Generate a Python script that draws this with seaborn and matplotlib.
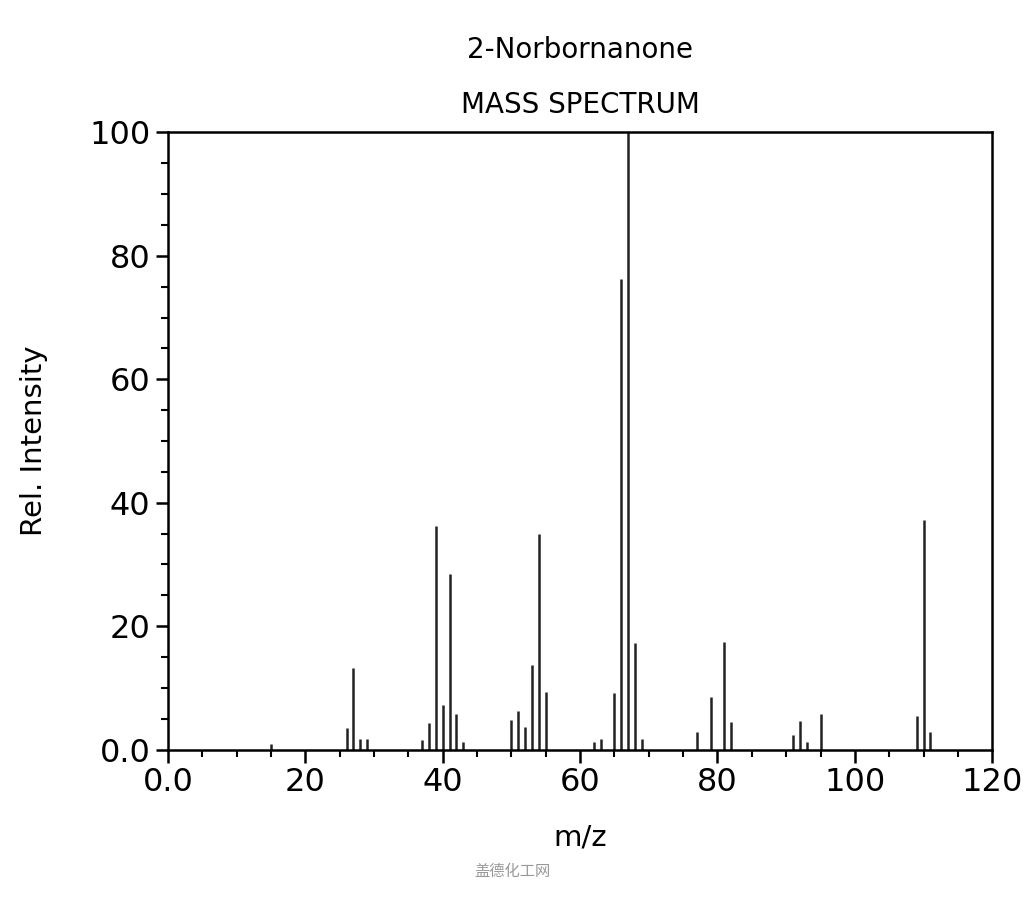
import matplotlib
matplotlib.use("Agg")
import matplotlib.pyplot as plt
import seaborn as sns
from matplotlib.ticker import MultipleLocator, FuncFormatter

# peak list
mz = [15, 26, 27, 28, 29, 37, 38, 39, 40, 41, 42, 43, 50, 51, 52, 53, 54, 55,
      62, 63, 65, 66, 67, 68, 69, 77, 79, 81, 82, 91, 92, 93, 95, 109, 110, 111]
intensity = [1.0, 3.5, 13.3, 1.8, 1.8, 1.6, 4.3, 36.2, 7.2, 28.5, 5.8, 1.2,
             4.8, 6.3, 3.6, 13.7, 35.0, 9.3, 1.2, 1.8, 9.2, 76.2, 100, 17.3, 1.7,
             2.8, 8.5, 17.5, 4.5, 2.3, 4.6, 1.2, 5.8, 5.4, 37.2, 2.8]

sns.set_style("white")
plt.rcParams['font.family'] = ['DejaVu Sans', 'Noto Sans CJK SC']
plt.rcParams['text.color'] = 'black'
plt.rcParams['axes.labelcolor'] = 'black'
plt.rcParams['xtick.color'] = 'black'
plt.rcParams['ytick.color'] = 'black'

fig, ax = plt.subplots(figsize=(10.24, 9.0), dpi=100)
fig.subplots_adjust(left=0.164, right=0.969, top=0.853, bottom=0.167)

ax.vlines(mz, 0, intensity, color="#222222", linewidth=1.8)
ax.set_xlim(0, 120)
ax.set_ylim(0, 100)

for s in ax.spines.values():
    s.set_linewidth(1.8)
    s.set_color("black")

ax.xaxis.set_major_locator(MultipleLocator(20))
ax.xaxis.set_minor_locator(MultipleLocator(5))
ax.yaxis.set_major_locator(MultipleLocator(20))
ax.yaxis.set_minor_locator(MultipleLocator(5))
fmt = FuncFormatter(lambda v, p: "0.0" if v == 0 else f"{v:.0f}")
ax.xaxis.set_major_formatter(fmt)
ax.yaxis.set_major_formatter(fmt)
ax.tick_params(axis="both", which="major", direction="out", length=9, width=1.8,
               labelsize=23, bottom=True, left=True)
ax.tick_params(axis="both", which="minor", direction="out", length=5, width=1.5,
               bottom=True, left=True)

ax.set_xlabel("m/z", fontsize=21, labelpad=18)
ax.set_ylabel("Rel. Intensity", fontsize=21, labelpad=30)
ax.set_title("2-Norbornanone\nMASS SPECTRUM", fontsize=20, linespacing=2.2, pad=14)

fig.text(0.5, 0.027, "盖德化工网", ha="center", fontsize=11, color="#999999",
         family=['Noto Sans CJK SC', 'DejaVu Sans'])

fig.savefig("out.png", dpi=100)
